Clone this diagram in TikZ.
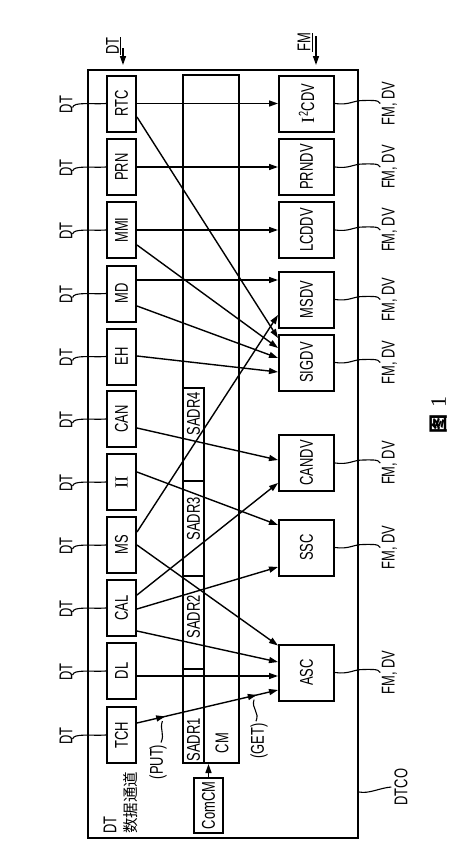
\documentclass[tikz,border=0pt]{standalone}
\usepackage{graphicx}
\usepackage{fontspec}
\setmainfont[FakeStretch=0.7]{Liberation Sans}
\newfontfamily\serifI{Liberation Serif}
\newfontfamily\cjk{Noto Sans CJK SC}
\usetikzlibrary{arrows.meta,decorations.markings,calc}
\newcommand{\rotlab}[1]{\rotatebox{90}{#1}}
\begin{document}
\begin{tikzpicture}[x=1pt,y=-1pt,
  every node/.style={inner sep=0pt},
  font=\fontsize{18.5}{20}\selectfont,
  box/.style={draw, line width=2pt},
  src/.style={box, minimum width=29pt, minimum height=56pt},
  dst/.style={box, minimum width=55pt, minimum height=56pt},
  tip/.style={-{Triangle[length=9pt,width=6pt]}},
  conn/.style={line width=1.4pt, tip},
  lead/.style={line width=1.1pt}
]
\useasboundingbox (0,0) rectangle (474,862);

% outer device box
\node[box, minimum width=270pt, minimum height=768pt] (dtco) at (223,454) {};

% CM column
\node[box, minimum width=56pt, minimum height=688pt] (cm) at (211,419) {};
\node[box, minimum width=21pt, minimum height=93pt] (sadr4) at (193.5,434.5) {};
\node[box, minimum width=21pt, minimum height=95pt] (sadr3) at (193.5,528.5) {};
\node[box, minimum width=21pt, minimum height=93pt] (sadr2) at (193.5,622.5) {};
\node[box, minimum width=21pt, minimum height=94pt] (sadr1) at (193.5,716) {};
\node (t4) at (193.5,414) {\rotlab{SADR4}};
\node (t3) at (193.5,519) {\rotlab{SADR3}};
\node (t2) at (193.5,617) {\rotlab{SADR2}};
\node (t1) at (193.5,740) {\rotlab{SADR1}};
\node (cmt) at (222,743) {\rotlab{CM}};
\node[box, minimum width=29pt, minimum height=55pt] (comcm) at (208.5,805.5) {\rotlab{ComCM}};
\draw[conn] (comcm.north) -- (comcm.north |- cm.south);

% source boxes with DT labels
\foreach \n/\y/\t in {rtc/103.5/RTC, prn/167/PRN, mmi/230/MMI, md/293.5/MD,
  eh/356.5/EH, can/419/CAN, ii/482/{{\serifI II}}, ms/545/MS, cal/608/CAL,
  dl/671/DL, tch/735/TCH}{
  \node[src] (\n) at (121.5,\y) {\rotlab{\t}};
  \node (dt\n) at (66,\y+1) {\rotlab{DT}};
  \draw[lead] ([yshift=-3pt]dt\n.east) .. controls +(1,-6) and +(-14,1) .. (\n.west);
}

% destination boxes with FM, DV labels
\foreach \n/\y/\t in {i2cdv/103.5/{{\serifI I}\textsuperscript{2}CDV}, prndv/167/PRNDV,
  lcddv/230/LCDDV, msdv/299.5/MSDV, sigdv/362.5/SIGDV, candv/463/CANDV,
  ssc/547.5/SSC, asc/672.5/ASC}{
  \node[dst] (\n) at (306.5,\y) {\rotlab{\t}};
  \node (fm\n) at (389.5,\y) {\rotlab{FM, DV}};
  \draw[lead] (\n.east) .. controls +(14,2) and +(-10,0) .. ($(\n.east)+(28,-3)$)
     .. controls +(6,0) and +(-1,-4) .. ([xshift=-1.5pt]fm\n.west);
}

% connections (canvas shifts: positive = up)
\foreach \s/\a/\d/\b in {rtc/0/i2cdv/0, rtc/-13.5/sigdv/24.5, prn/0/prndv/0,
  mmi/0/lcddv/0, mmi/-15/sigdv/14.5, md/13.5/msdv/19.5, md/-12.5/sigdv/4.5,
  eh/0.5/sigdv/-9.5, can/-9/candv/3, ii/10/ssc/22.5, ms/13/msdv/-15.5,
  ms/0/asc/27, cal/13/candv/-20, cal/-1/ssc/-19.5, cal/-23/asc/10.5,
  dl/-5/asc/-3.5}{
  \draw[conn] ([yshift=\a pt]\s.east) -- ([yshift=\b pt]\d.west);
}

% TCH -> ASC with PUT / GET
\coordinate (tchs) at ([yshift=12pt]tch.east);
\coordinate (asct) at ([yshift=-17.5pt]asc.west);
\draw[conn, postaction={decorate}, decoration={markings,
   mark=at position 0.2 with {\arrow{Triangle[length=9pt,width=6pt]}},
   mark=at position 0.85 with {\arrow{Triangle[length=9pt,width=6pt]}}}]
   (tchs) -- (asct);
\coordinate (putpt) at ($(tchs)!0.18!(asct)+(0,4)$);
\coordinate (getpt) at ($(tchs)!0.83!(asct)+(0,4)$);
\node (put) at (158,762) {\rotlab{(PUT)}};
\node (get) at (259,741) {\rotlab{(GET)}};
\draw[lead] ([xshift=3pt,yshift=2pt]put.north) .. controls +(4,-9) and +(-3,9) .. (putpt);
\draw[lead] ([xshift=-3pt,yshift=2pt]get.north) .. controls +(4,-9) and +(-3,9) .. (getpt);

% top inputs
\node (dttop) at (113.5,46) {\rotlab{\underline{DT}}};
\coordinate (dtin) at (123,48);
\draw[conn, shorten >=4pt] (dtin) -- (dtin |- dtco.north);
\node (fmtop) at (305,42.5) {\rotlab{\underline{FM}}};
\coordinate (fmin) at (316,36);
\draw[conn, shorten >=4pt] (fmin) -- (fmin |- dtco.north);

% DTCO label
\node (dtcolab) at (401,787) {\rotlab{DTCO}};
\draw[lead] ([yshift=-338pt]dtco.east) .. controls +(10,2) and +(-12,1) .. ([xshift=-3pt]dtcolab.west);

% channel label
\node[anchor=south] (dtch) at (110,834) {\rotlab{DT}};
\node[anchor=south] (chan) at (131,834) {\rotlab{\cjk\fontsize{15.5}{16}\selectfont 数据通道}};

% figure caption
\node (fig) at (439,415) {\rotlab{{\cjk\bfseries\fontsize{19}{20}\selectfont 图}\,\,{\serifI\fontsize{22}{22}\selectfont 1}}};
\end{tikzpicture}
\end{document}
